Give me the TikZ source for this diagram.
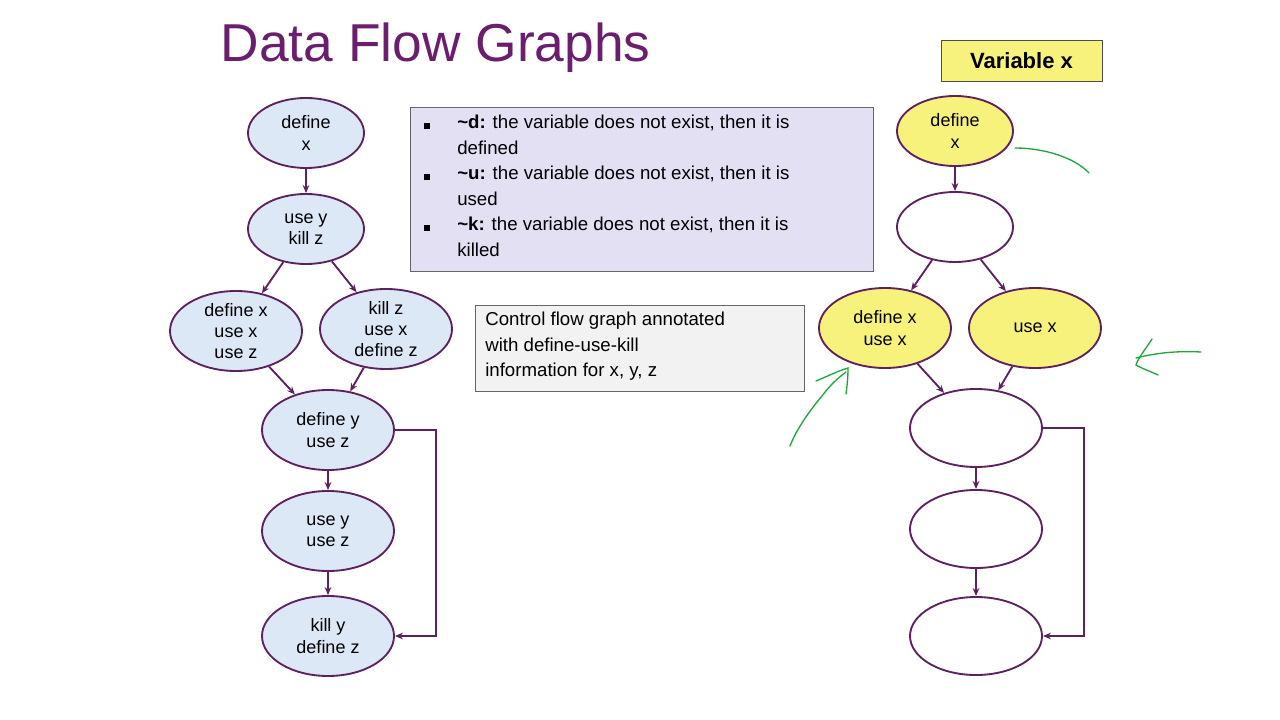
\documentclass[tikz,border=0pt]{standalone}
\usepackage{fontspec}
\setmainfont{Liberation Sans}
\usetikzlibrary{shapes.geometric,arrows.meta}
\definecolor{pur}{HTML}{5E2160}
\definecolor{ttl}{HTML}{6B1D6E}
\definecolor{lb}{HTML}{DCE8F6}
\definecolor{yl}{HTML}{F7F27C}
\definecolor{lav}{HTML}{E4E0F4}
\definecolor{gr}{HTML}{1FA83A}
\begin{document}
\begin{tikzpicture}[x=0.75pt,y=-0.75pt,
  el/.style={ellipse,draw=pur,line width=1.4pt,inner sep=0pt,align=center,font=\fontsize{13.5}{16}\selectfont},
  b/.style={el,fill=lb,minimum width=116*0.75pt,minimum height=70*0.75pt},
  bw/.style={el,fill=lb,minimum width=132*0.75pt,minimum height=80*0.75pt},
  y1/.style={el,fill=yl,minimum width=116*0.75pt,minimum height=70*0.75pt},
  y2/.style={el,fill=yl,minimum width=132*0.75pt,minimum height=80*0.75pt},
  w1/.style={el,fill=white,minimum width=116*0.75pt,minimum height=70*0.75pt},
  w2/.style={el,fill=white,minimum width=132*0.75pt,minimum height=78*0.75pt},
  ar/.style={draw=pur,line width=1.4pt,-{Stealth[length=6pt,width=5pt]}},
  tx/.style={anchor=north west,align=left,inner sep=0pt,font=\fontsize{14}{19}\selectfont},
  gs/.style={draw=gr,line width=1pt,line cap=round}]
\useasboundingbox (0,0) rectangle (1280,720);
\node[anchor=base west,text=ttl,font=\fontsize{40}{44}\selectfont] (title) at (216,62) {Data Flow Graphs};
% left graph
\node[b] (a) at (306,133) {define\\x};
\node[b] (bb) at (306,229) {use y\\kill z};
\node[bw] (c) at (236,331) {define x\\use x\\use z};
\node[bw] (d) at (386,329) {kill z\\use x\\define z};
\node[bw] (e) at (328,430) {define y\\use z};
\node[bw] (f) at (328,531) {use y\\use z};
\node[bw] (g) at (328,636) {kill y\\define z};
\draw[ar] (a) -- (bb);
\draw[ar] (bb) -- (c);
\draw[ar] (bb) -- (d);
\draw[ar] (c) -- (e);
\draw[ar] (d) -- (e);
\draw[ar] (e) -- (f);
\draw[ar] (f) -- (g);
\draw[ar] (e.east) -- (436,430) -- (436,636) -- (g.east);
% right graph
\node[y1] (ra) at (955,131) {define\\x};
\node[w1] (rb) at (955,227) {};
\node[y2] (rc) at (885,328) {define x\\use x};
\node[y2] (rd) at (1035,328) {use x};
\node[w2] (re) at (976,428) {};
\node[w2] (rf) at (976,529) {};
\node[w2] (rg) at (976,636) {};
\draw[ar] (ra) -- (rb);
\draw[ar] (rb) -- (rc);
\draw[ar] (rb) -- (rd);
\draw[ar] (rc) -- (re);
\draw[ar] (rd) -- (re);
\draw[ar] (re) -- (rf);
\draw[ar] (rf) -- (rg);
\draw[ar] (re.east) -- (1084,428) -- (1084,636) -- (rg.east);
% boxes
\node[draw=black!70,fill=yl,minimum width=161*0.75pt,minimum height=41*0.75pt,font=\bfseries\fontsize{16.5}{20}\selectfont] (vx) at (1021.5,61) {Variable x};
\node[draw=black!60,fill=lav,anchor=north west,minimum width=463*0.75pt,minimum height=164*0.75pt,inner sep=0pt] (txt) at (410,107) {};
\node[tx] (t1) at (457,115) {\textbf{\textasciitilde d:} the variable does not exist, then it is\\defined};
\node[tx] (t2) at (457,166) {\textbf{\textasciitilde u:} the variable does not exist, then it is\\used};
\node[tx] (t3) at (457,217) {\textbf{\textasciitilde k:} the variable does not exist, then it is\\killed};
\foreach \yy [count=\i] in {126,177,228} \node[fill=black,inner sep=0pt,minimum size=4.5pt] (sq\i) at (427,\yy) {};
\node[draw=black!60,fill=black!5,anchor=north west,minimum width=329*0.75pt,minimum height=86*0.75pt,inner sep=0pt] (cf) at (475,305) {};
\node[tx,font=\fontsize{14}{19}\selectfont] (cft) at (485,312) {Control flow graph annotated\\with define-use-kill\\information for x, y, z};
% green strokes
\draw[gs] (1015,148) .. controls (1045,148) and (1075,158) .. (1089,173);
\draw[gs] (1201,352) .. controls (1180,351) and (1160,352) .. (1136,358);
\draw[gs] (1152,339) .. controls (1145,350) and (1138,358) .. (1136,365) .. controls (1145,370) and (1152,372) .. (1158,375);
\draw[gs] (790,446) .. controls (796,430) and (810,410) .. (822,396) .. controls (830,385) and (838,378) .. (846,372);
\draw[gs] (816,381) .. controls (828,376) and (838,371) .. (848,368) .. controls (848,378) and (847,386) .. (846,394);
\end{tikzpicture}
\end{document}
